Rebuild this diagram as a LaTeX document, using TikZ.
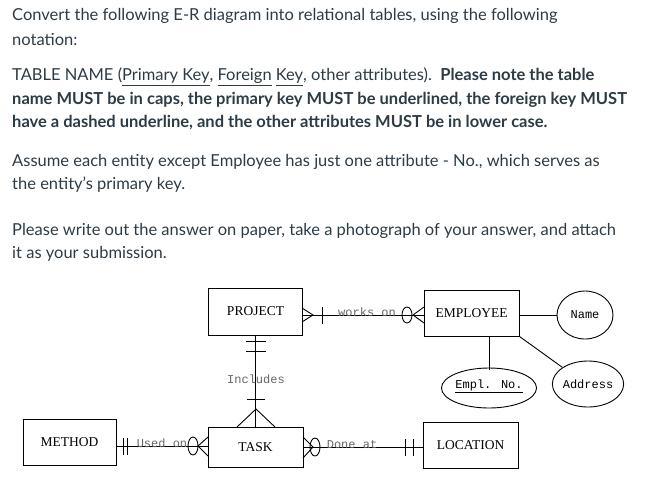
\documentclass[tikz,border=0pt]{standalone}
\usepackage{fontspec}
\setmainfont{Lato}
\newfontfamily\serifer{Liberation Serif}
\newfontfamily\monor{Liberation Mono}
\usepackage{xcolor}
\usetikzlibrary{shapes.geometric}
\definecolor{txt}{HTML}{2D3B45}
\begin{document}
\begin{tikzpicture}[x=1pt,y=-1pt,
  para/.style={anchor=west,text=txt,font=\fontsize{16.5}{23}\selectfont,inner sep=0},
  ent/.style={draw,line width=0.9pt,font=\serifer\fontsize{13.5}{15}\selectfont,inner sep=0},
  attr/.style={draw,ellipse,line width=0.9pt,font=\monor\fontsize{12}{12}\selectfont,inner sep=0},
  rel/.style={font=\monor\fontsize{12}{12}\selectfont,text=gray!80!black,inner sep=0},
  ln/.style={line width=0.9pt}]
\useasboundingbox (0,0) rectangle (650,485);
\node[para] (t1) at (12,16) {Convert the following E-R diagram into relational tables, using the following};
\node[para] (t2) at (12,40) {notation:};
\node[para] (t3) at (12,77) {TABLE NAME (\underline{Primary Key}, \underline{Foreign} \underline{Key}, other attributes).\ \ \textbf{Please note the table}};
\node[para] (t4) at (12,100) {\textbf{name MUST be in caps, the primary key MUST be underlined, the foreign key MUST}};
\node[para] (t5) at (12,123) {\textbf{have a dashed underline, and the other attributes MUST be in lower case.}};
\node[para] (t6) at (12,162) {Assume each entity except Employee has just one attribute - No., which serves as};
\node[para] (t7) at (12,185) {the entity's primary key.};
\node[para] (t8) at (12,231) {Please write out the answer on paper, take a photograph of your answer, and attach};
\node[para] (t9) at (12,254) {it as your submission.};

\node[ent,minimum width=94,minimum height=47] (proj) at (255.5,311.5) {PROJECT};
\node[ent,minimum width=95,minimum height=46] (emp) at (471.5,313) {EMPLOYEE};
\node[ent,minimum width=95,minimum height=40] (task) at (255.5,447) {\raisebox{-5pt}{TASK}};
\node[ent,minimum width=95,minimum height=46] (loc) at (470.5,445) {LOCATION};
\node[ent,minimum width=93,minimum height=46] (meth) at (69.5,442) {METHOD};
\node[attr,minimum width=56,minimum height=48] (name) at (585,315) {Name};
\node[attr,minimum width=76,minimum height=40] (eno) at (489,388) {\raisebox{8pt}{\underline{Empl. No.}}};
\node[attr,minimum width=66,minimum height=46] (addr) at (588,384) {Address};

\draw[ln] (emp.east |- name) -- (name.west);
\draw[ln] (emp.south east) -- (addr.north west);
\draw[ln] (489,336) -- (489,370);

% works on
\draw[ln] (proj.east |- 0,315) -- (emp.west |- 0,315);
\node[rel] (l1) at (367,312) {works on};
\draw[ln] (302,308) -- (313,315) -- (302,322);
\draw[ln] (322,307) -- (322,324);
\draw[ln] (424,307) -- (413,315) -- (424,323);
\draw[ln] (407,315) ellipse (5 and 8);

% includes
\draw[ln] (proj.south) -- (task.north);
\node[rel] (l2) at (256,379) {Includes};
\draw[ln] (246,341) -- (266,341) (246,351) -- (266,351);
\draw[ln] (247,399) -- (265,399);
\draw[ln] (237,427) -- (256,409) -- (275,427);

% done at
\draw[ln] (task.east |- 0,447) -- (loc.west |- 0,447);
\node[rel] (l3) at (352,445) {Done at};
\draw[ln] (303,437) -- (313,447) -- (303,458);
\draw[ln] (315,447) ellipse (5 and 9);
\draw[ln] (405,439) -- (405,456) (413,439) -- (413,456);

% used on
\draw[ln] (meth.east |- 0,446) -- (task.west |- 0,446);
\node[rel] (l4) at (162,443) {Used on};
\draw[ln] (123,438) -- (123,455) (127,438) -- (127,455);
\draw[ln] (208,437) -- (198,446) -- (208,456);
\draw[ln] (193,446) ellipse (5 and 9);
\end{tikzpicture}
\end{document}
